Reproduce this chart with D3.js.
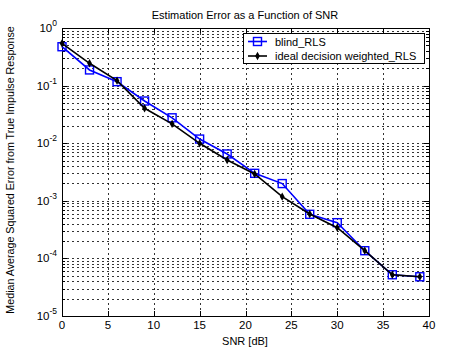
<!DOCTYPE html>
<html><head><meta charset="utf-8">
<script src="https://cdn.jsdelivr.net/npm/d3@7"></script>
<style>body{margin:0;background:#fff;}text{font-family:"Liberation Sans",Arial,sans-serif;}</style>
</head><body><svg id="c" width="474" height="355"></svg>
<script>
const snr = [0,3,6,9,12,15,18,21,24,27,30,33,36,39];
const blindRLS = [0.473,0.187,0.117,0.054,0.0276,0.0118,0.0065,0.0030,0.00199,5.83e-4,4.17e-4,1.36e-4,5.2e-5,4.8e-5];
const idealRLS = [0.542,0.244,0.122,0.0404,0.0217,0.00996,0.0051,0.00292,0.00118,5.9e-4,3.41e-4,1.36e-4,5.2e-5,4.8e-5];
const xTicks = [0,5,10,15,20,25,30,35,40];
const yExps = [0,-1,-2,-3,-4,-5];
const seriesNames = ["blind_RLS","ideal decision weighted_RLS"];

const svg = d3.select("#c");
const L=62,R=429,T=28,B=316;
const x = d3.scaleLinear().domain([0,40]).range([L,R]);
const y = d3.scaleLog().domain([1e-5,1]).range([B,T]);

// grid
const g = svg.append("g");
const minor=[];
for(let e=-5;e<0;e++){for(let m=2;m<=9;m++)minor.push(m*Math.pow(10,e));}
const majors = yExps.map(e=>Math.pow(10,e));
g.selectAll(".hg").data(minor.concat(majors.slice(1,5))).enter().append("line")
 .attr("x1",L).attr("x2",R).attr("y1",d=>Math.round(y(d))+0.5).attr("y2",d=>Math.round(y(d))+0.5)
 .attr("stroke","#000").attr("stroke-width",0.8).attr("stroke-dasharray","2,3");
g.selectAll(".vg").data(xTicks.slice(1,-1)).enter().append("line")
 .attr("x1",d=>Math.round(x(d))+0.5).attr("x2",d=>Math.round(x(d))+0.5).attr("y1",T).attr("y2",B)
 .attr("stroke","#000").attr("stroke-width",0.8).attr("stroke-dasharray","2,3");

// ticks inward
const tk = svg.append("g").attr("stroke","#000").attr("stroke-width",1);
minor.forEach(d=>{const yy=Math.round(y(d))+0.5;
 tk.append("line").attr("x1",L).attr("x2",L+3).attr("y1",yy).attr("y2",yy);
 tk.append("line").attr("x1",R).attr("x2",R-3).attr("y1",yy).attr("y2",yy);});
majors.forEach(d=>{const yy=Math.round(y(d))+0.5;
 tk.append("line").attr("x1",L).attr("x2",L+5).attr("y1",yy).attr("y2",yy);
 tk.append("line").attr("x1",R).attr("x2",R-5).attr("y1",yy).attr("y2",yy);});
xTicks.forEach(d=>{const xx=Math.round(x(d))+0.5;
 tk.append("line").attr("x1",xx).attr("x2",xx).attr("y1",B).attr("y2",B-5);
 tk.append("line").attr("x1",xx).attr("x2",xx).attr("y1",T).attr("y2",T+5);});

svg.append("rect").attr("x",L+0.5).attr("y",T+0.5).attr("width",R-L).attr("height",B-T)
 .attr("fill","none").attr("stroke","#000").attr("stroke-width",1);

// tick labels
svg.selectAll(".xl").data(xTicks).enter().append("text")
 .attr("x",d=>x(d)).attr("y",B+13).attr("text-anchor","middle").attr("font-size",11.5).attr("fill","#000").text(d=>d);
yExps.forEach(e=>{
 const t=svg.append("text").attr("x",L-5).attr("y",y(Math.pow(10,e))+4).attr("text-anchor","end").attr("font-size",11.5).attr("fill","#000");
 t.append("tspan").text("10");
 t.append("tspan").attr("dy",-6).attr("font-size",8.5).text(e);
});

// titles
svg.append("text").attr("x",245).attr("y",19).attr("text-anchor","middle").attr("font-size",11).text("Estimation Error as a Function of SNR");
svg.append("text").attr("x",245).attr("y",345).attr("text-anchor","middle").attr("font-size",11).text("SNR [dB]");
svg.append("text").attr("transform","translate(14,170) rotate(-90)").attr("text-anchor","middle").attr("font-size",10.7).text("Median Average Squared Error from True Impulse Response");

// lines
const line = d3.line().x(d=>x(d[0])).y(d=>y(d[1]));
const bData = snr.map((s,i)=>[s,blindRLS[i]]);
const iData = snr.map((s,i)=>[s,idealRLS[i]]);
svg.append("path").attr("d",line(bData)).attr("fill","none").attr("stroke","#0000ff").attr("stroke-width",1.6);
svg.selectAll(".bm").data(bData).enter().append("rect")
 .attr("x",d=>x(d[0])-4).attr("y",d=>y(d[1])-4).attr("width",8).attr("height",8)
 .attr("fill","none").attr("stroke","#0000ff").attr("stroke-width",1.4);
svg.append("path").attr("d",line(iData)).attr("fill","none").attr("stroke","#000").attr("stroke-width",1.6);
const diamond = d3.symbol().type(d3.symbolDiamond).size(20);
svg.selectAll(".im").data(iData).enter().append("path")
 .attr("d",diamond).attr("transform",d=>`translate(${x(d[0])},${y(d[1])})`).attr("fill","#000");

// legend
const lg = svg.append("g");
lg.append("rect").attr("x",243.5).attr("y",33.5).attr("width",181).attr("height",30).attr("fill","#fff").attr("stroke","#000");
lg.append("line").attr("x1",248).attr("x2",267).attr("y1",41.5).attr("y2",41.5).attr("stroke","#0000ff").attr("stroke-width",1.6);
lg.append("rect").attr("x",253.5).attr("y",37.5).attr("width",8).attr("height",8).attr("fill","none").attr("stroke","#0000ff").attr("stroke-width",1.4);
lg.append("text").attr("x",275).attr("y",45.5).attr("font-size",11).text(seriesNames[0]);
lg.append("line").attr("x1",248).attr("x2",267).attr("y1",56).attr("y2",56).attr("stroke","#000").attr("stroke-width",1.6);
lg.append("path").attr("d",diamond).attr("transform","translate(257.5,56)").attr("fill","#000");
lg.append("text").attr("x",275).attr("y",60).attr("font-size",11).text(seriesNames[1]);
</script></body></html>
